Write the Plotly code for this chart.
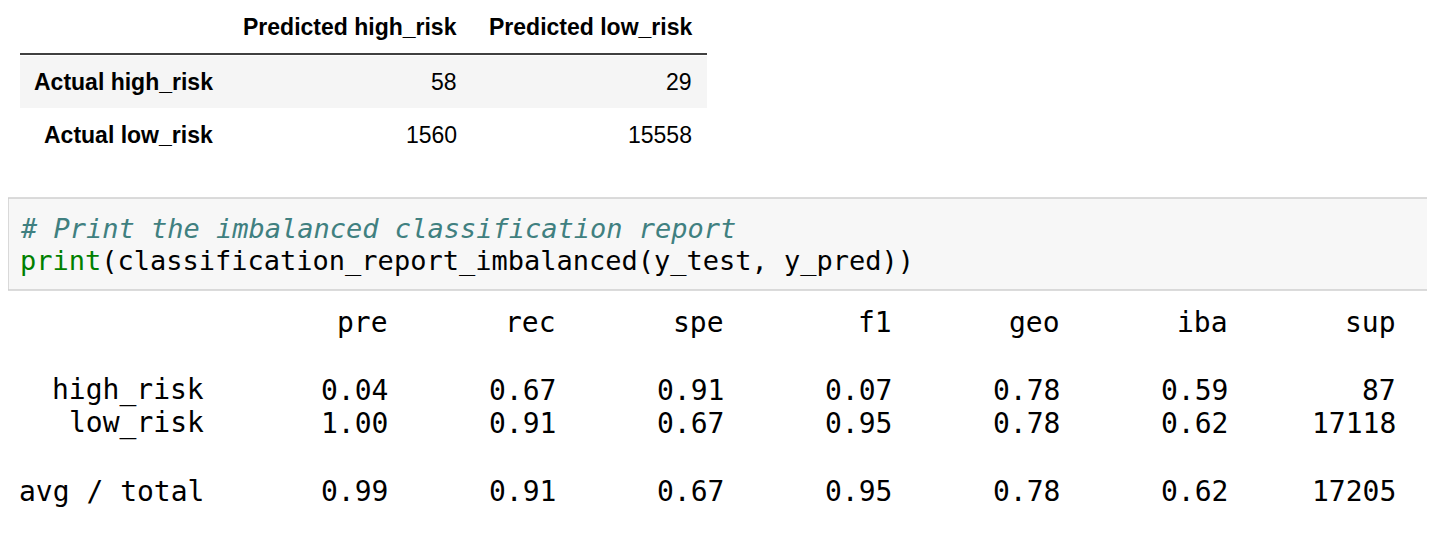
import plotly.graph_objects as go

table_cols = ["Predicted high_risk", "Predicted low_risk"]
table_rows = ["Actual high_risk", "Actual low_risk"]
table_values = [[58, 29], [1560, 15558]]

code_comment = "# Print the imbalanced classification report"
code_func = "print"
code_rest = "(classification_report_imbalanced(y_test, y_pred))"

report_cols = ["pre", "rec", "spe", "f1", "geo", "iba", "sup"]
report_rows = ["high_risk", "low_risk", "avg / total"]
report_values = [
    ["0.04", "0.67", "0.91", "0.07", "0.78", "0.59", "87"],
    ["1.00", "0.91", "0.67", "0.95", "0.78", "0.62", "17118"],
    ["0.99", "0.91", "0.67", "0.95", "0.78", "0.62", "17205"],
]

fig = go.Figure()
fig.add_trace(go.Scatter(x=[8, 1443], y=[8, 566], mode="markers", marker=dict(opacity=0), hoverinfo="skip", showlegend=False))

ann = []
shapes = []
sans = "Liberation Sans, Arial"
mono = "DejaVu Sans Mono, monospace"
tsize = 23
msize = 28

# dataframe table
tab_col_x = [459, 694]
tab_row_y = [82, 135]
shapes.append(dict(type="rect", x0=20, x1=707, y0=56, y1=108, fillcolor="#f5f5f5", line=dict(width=0), layer="below"))
shapes.append(dict(type="line", x0=20, x1=707, y0=54, y1=54, line=dict(color="black", width=1.5)))
for c, x in zip(table_cols, tab_col_x):
    ann.append(dict(x=x, y=27, text="<b>%s</b>" % c, xanchor="right", font=dict(family=sans, size=tsize, color="black")))
for r, y, vals in zip(table_rows, tab_row_y, table_values):
    ann.append(dict(x=215, y=y, text="<b>%s</b>" % r, xanchor="right", font=dict(family=sans, size=tsize, color="black")))
    for v, x in zip(vals, tab_col_x):
        ann.append(dict(x=x, y=y, text=str(v), xanchor="right", font=dict(family=sans, size=tsize, color="black")))

# code cell
shapes.append(dict(type="rect", x0=8, x1=1450, y0=198, y1=290, fillcolor="#f7f7f7", line=dict(color="#cfcfcf", width=1.5), layer="below"))
ann.append(dict(x=18, y=228, text="<i>%s</i>" % code_comment, xanchor="left", font=dict(family=mono, size=msize - 1, color="#408080")))
ann.append(dict(x=18, y=261, text='<span style="color:#008000">%s</span>%s' % (code_func, code_rest), xanchor="left", font=dict(family=mono, size=msize - 1, color="black")))

# report
rep_col_x = [390, 558, 726, 894, 1062, 1230, 1398]
rep_row_y = [322, 390, 423, 491]
for c, x in zip(report_cols, rep_col_x):
    ann.append(dict(x=x, y=rep_row_y[0], text=c, xanchor="right", font=dict(family=mono, size=msize, color="black")))
for r, y, vals in zip(report_rows, rep_row_y[1:], report_values):
    ann.append(dict(x=206, y=y, text=r, xanchor="right", font=dict(family=mono, size=msize, color="black")))
    for v, x in zip(vals, rep_col_x):
        ann.append(dict(x=x, y=y, text=v, xanchor="right", font=dict(family=mono, size=msize, color="black")))

for a in ann:
    a.update(xref="x", yref="y", showarrow=False, yanchor="middle")

fig.update_layout(
    width=1435, height=558, margin=dict(l=0, r=0, t=0, b=0),
    paper_bgcolor="white", plot_bgcolor="white",
    xaxis=dict(range=[8, 1443], visible=False, fixedrange=True),
    yaxis=dict(range=[566, 8], visible=False, fixedrange=True),
    annotations=ann, shapes=shapes,
)
fig.write_html("out.html")
